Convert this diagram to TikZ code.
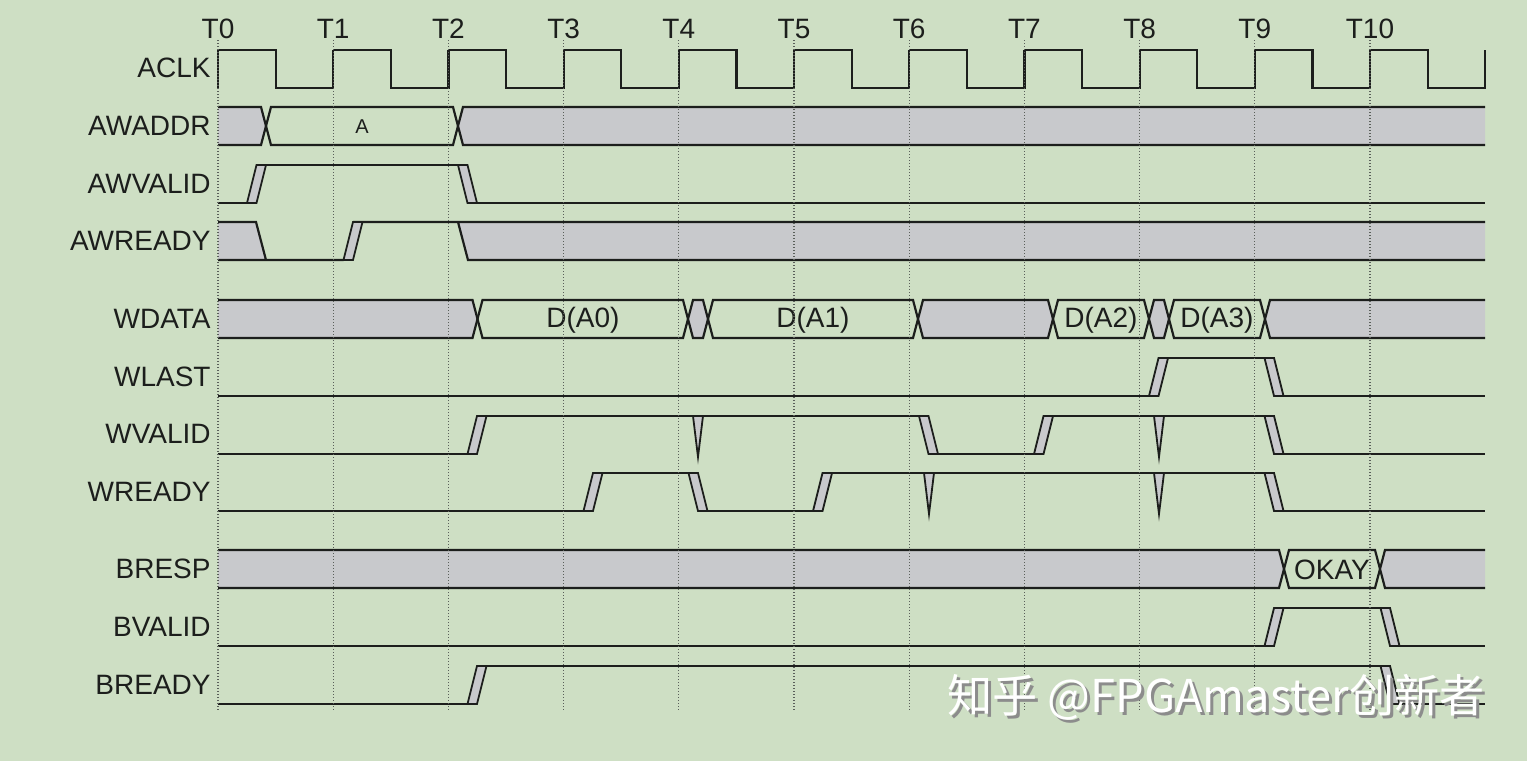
\documentclass[tikz,border=0pt]{standalone}
\usepackage{fontspec}
\setmainfont{Liberation Sans}
\newfontfamily\cjkfont{Noto Sans CJK SC}
\definecolor{bgc}{RGB}{206,223,196}
\definecolor{undefc}{RGB}{200,201,204}
\definecolor{inkc}{RGB}{28,30,28}
\definecolor{tickc}{RGB}{90,95,90}

\newcommand{\sigrise}[3]{\path[edgebox] ({#1-9.5},#3) -- (#1,#3) -- ({#1+9.5},#2) -- (#1,#2) -- cycle;}
\newcommand{\sigfall}[3]{\path[edgebox] ({#1-9.5},#2) -- (#1,#2) -- ({#1+9.5},#3) -- (#1,#3) -- cycle;}
\newcommand{\sigglitch}[3]{\path[edgebox] ({#1-5},#2) -- ({#1+5},#2) -- (#1,{#3+3}) -- cycle;}
\newcommand{\busseg}[4]{\path[#4] (#1,{#3+19}) -- ({#1+5},#3) -- ({#2-5},#3) -- (#2,{#3+19}) -- ({#2-5},{#3+38}) -- ({#1+5},{#3+38}) -- cycle;}

\begin{document}
\begin{tikzpicture}[
		  x=0.5pt, y=-0.5pt,
		  wave/.style={draw=inkc, line width=1.1pt},
		  edgebox/.style={draw=inkc, fill=undefc, line width=0.9pt},
		  busgray/.style={draw=inkc, fill=undefc, line width=1.1pt},
		  busdata/.style={draw=inkc, line width=1.1pt},
		  tick/.style={draw=tickc, line width=0.6pt, dash pattern=on 0.5pt off 1pt},
		  sig/.style={anchor=east, inner sep=0pt, text=inkc, font=\fontsize{14}{16}\selectfont},
		  tlabel/.style={text=inkc, font=\fontsize{14}{16}\selectfont},
		  datatext/.style={text=inkc, font=\fontsize{14}{16}\selectfont},
		  smalltext/.style={text=inkc, font=\fontsize{10}{12}\selectfont},
		  wmtext/.style={anchor=base west, inner sep=0pt, text=white, font=\cjkfont\fontsize{22.6}{28}\selectfont},
		  wmshadow/.style={wmtext, text=black!45}
		]
		\fill[bgc] (0,0) rectangle (1527,761);
		
		\node[sig] (lbl_aclk) at (211,68) {ACLK};
		\node[sig] (lbl_awaddr) at (211,126) {AWADDR};
		\node[sig] (lbl_awvalid) at (211,184) {AWVALID};
		\node[sig] (lbl_awready) at (211,241) {AWREADY};
		\node[sig] (lbl_wdata) at (211,319) {WDATA};
		\node[sig] (lbl_wlast) at (211,377) {WLAST};
		\node[sig] (lbl_wvalid) at (211,434) {WVALID};
		\node[sig] (lbl_wready) at (211,492) {WREADY};
		\node[sig] (lbl_bresp) at (211,569) {BRESP};
		\node[sig] (lbl_bvalid) at (211,627) {BVALID};
		\node[sig] (lbl_bready) at (211,685) {BREADY};
		
		\draw[wave] (218,88) -- (218,50);
		\foreach \k in {0,...,10}
		  \draw[wave] ({218+115.2*\k},50) -- ({275.6+115.2*\k},50) -- ({275.6+115.2*\k},88) -- ({333.2+115.2*\k},88) -- ({333.2+115.2*\k},50);
		
		\begin{scope}
		  \clip (218,0) rectangle (1485,761);
		  \busseg{208}{266}{107}{busgray}
		  \busseg{266}{458}{107}{busdata}
		  \busseg{458}{1495}{107}{busgray}
		  \busseg{208}{477.5}{300}{busgray}
		  \busseg{477.5}{688}{300}{busdata}
		  \busseg{688}{708}{300}{busgray}
		  \busseg{708}{918}{300}{busdata}
		  \busseg{918}{1053}{300}{busgray}
		  \busseg{1053}{1149}{300}{busdata}
		  \busseg{1149}{1169}{300}{busgray}
		  \busseg{1169}{1265}{300}{busdata}
		  \busseg{1265}{1495}{300}{busgray}
		  \busseg{208}{1284}{550}{busgray}
		  \busseg{1284}{1380}{550}{busdata}
		  \busseg{1380}{1495}{550}{busgray}
		\end{scope}
		\node[smalltext] (bus_a) at (362,127) {A};
		\node[datatext] (bus_da0) at (583,320.5) {D(A0)};
		\node[datatext] (bus_da1) at (813,320.5) {D(A1)};
		\node[datatext] (bus_da2) at (1101,320.5) {D(A2)};
		\node[datatext] (bus_da3) at (1217,320.5) {D(A3)};
		\node[datatext] (bus_okay) at (1332,570) {OKAY};
		
		\draw[wave] (218,203) -- (247,203) (256.5,165) -- (458,165) (477,203) -- (1485,203);
		\sigrise{256.5}{165}{203}
		\sigfall{467.5}{165}{203}
		
		\fill[undefc] (218,222) -- (256,222) -- (266,260) -- (218,260) -- cycle;
		\fill[undefc] (458,222) -- (1485,222) -- (1485,260) -- (468,260) -- cycle;
		\draw[wave] (218,222) -- (256,222) -- (266,260) (218,260) -- (343.5,260);
		\draw[wave] (353,222) -- (1485,222) (458,222) -- (468,260) -- (1485,260);
		\sigrise{353}{222}{260}
		
		\draw[wave] (218,396) -- (1149,396) (1158.5,358) -- (1264.5,358) (1274,396) -- (1485,396);
		\sigrise{1158.5}{358}{396}
		\sigfall{1274}{358}{396}
		
		\draw[wave] (218,454) -- (467.5,454) (477,416) -- (919,416) (928.5,454) -- (1034,454) (1043.5,416) -- (1264.5,416) (1274,454) -- (1485,454);
		\sigrise{477}{416}{454}
		\sigglitch{698}{416}{454}
		\sigfall{928.5}{416}{454}
		\sigrise{1043.5}{416}{454}
		\sigglitch{1159}{416}{454}
		\sigfall{1274}{416}{454}
		
		\draw[wave] (218,511) -- (583.5,511) (593,473) -- (688.5,473) (698,511) -- (813,511) (822.5,473) -- (1264.5,473) (1274,511) -- (1485,511);
		\sigrise{593}{473}{511}
		\sigfall{698}{473}{511}
		\sigrise{822.5}{473}{511}
		\sigglitch{929}{473}{511}
		\sigglitch{1159}{473}{511}
		\sigfall{1274}{473}{511}
		
		\draw[wave] (218,646) -- (1264.5,646) (1274,608) -- (1380.5,608) (1390,646) -- (1485,646);
		\sigrise{1274}{608}{646}
		\sigfall{1390}{608}{646}
		
		\draw[wave] (218,704) -- (467.5,704) (477,666) -- (1380.5,666) (1390,704) -- (1485,704);
		\sigrise{477}{666}{704}
		\sigfall{1390}{666}{704}
		
		\foreach \k in {0,...,10} {
		  \draw[tick] ({218+115.2*\k},40) -- ({218+115.2*\k},710);
		  \node[tlabel] (t\k) at ({218+115.2*\k},29) {T\k};
		}
		
		\node[wmshadow] (wm_shadow) at (950,715) {知乎 @FPGAmaster创新者};
		\node[wmtext] (wm_text) at (947,712) {知乎 @FPGAmaster创新者};
		\end{tikzpicture}
\end{document}
